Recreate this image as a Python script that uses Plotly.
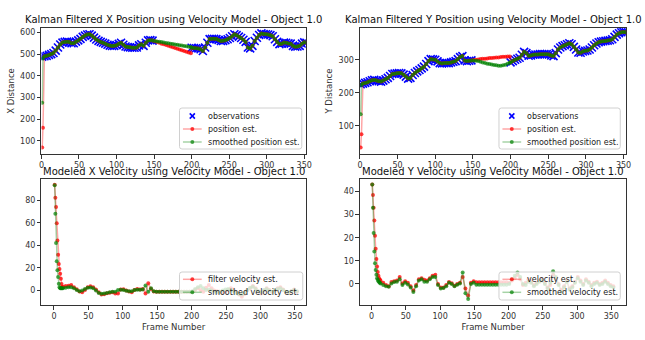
import plotly.graph_objects as go

# ---------------- frame numbers ----------------
frames_a = list(range(1, 149, 3))      # tracked before the occlusion
frames_gap = list(range(151, 200, 3))  # occlusion: no observations
frames_b = list(range(200, 354, 3))    # tracked after the occlusion
frames_head = [1, 2]                   # filter warm-up frames
frames_v = list(range(1, 13)) + list(range(13, 354, 4))

# ---------------- X position ----------------
x_obs_a = [488, 490, 492, 496, 500, 505, 516, 530, 544, 553, 556, 557, 555, 550, 550,
           557, 563, 570, 579, 585, 590, 591, 585, 576, 567, 561, 556, 552, 548, 543,
           539, 537, 538, 541, 547, 552, 543, 535, 532, 531, 529, 529, 530, 540, 545,
           538, 552, 563, 564, 562]
x_obs_b = [529, 528, 527, 526, 522, 514, 530, 552, 569, 570, 570, 569, 565, 560, 561,
           564, 568, 574, 582, 591, 587, 580, 574, 566, 556, 530, 526, 538, 560, 575,
           588, 595, 592, 591, 590, 587, 582, 568, 556, 546, 548, 553, 552, 549, 548,
           538, 534, 535, 538, 548, 554, 552]
x_est_head = [70, 161]
x_smooth_head = [276, 480]
x_est_gap = [559, 555, 552, 548, 545, 542, 538, 535, 531, 528, 525, 521, 518, 514, 511, 507, 504]
x_smooth_gap = [560, 558, 557, 555, 553, 551, 550, 548, 546, 544, 543, 541, 539, 537, 536, 534, 532]

# ---------------- Y position ----------------
y_obs_a = [226, 228, 230, 232, 235, 238, 239, 237, 235, 234, 237, 241, 245, 251, 257,
           258, 259, 260, 259, 255, 249, 243, 245, 254, 260, 265, 269, 274, 279, 287,
           296, 302, 301, 300, 295, 290, 289, 290, 290, 290, 292, 294, 296, 302, 308,
           311, 298, 296, 297, 298]
y_obs_b = [292, 296, 300, 303, 306, 315, 324, 320, 312, 313, 315, 316, 316, 317, 317,
           317, 317, 316, 313, 311, 320, 331, 337, 341, 344, 347, 350, 347, 339, 331,
           322, 321, 325, 327, 328, 331, 337, 344, 349, 353, 355, 356, 357, 358, 359,
           362, 369, 376, 380, 383, 384, 383]
y_est_head = [35, 75]
y_smooth_head = [135, 224]
y_est_gap = [299, 300, 301, 302, 303, 303, 304, 305, 305, 306, 307, 307, 308, 309, 309, 310, 310]
y_smooth_gap = [298, 297, 296, 294, 292, 290, 288, 287, 286, 284, 283, 282, 282, 283, 285, 288, 292]

# ---------------- X velocity ----------------
vx_filter = [93.5, 82, 73.8, 59.6, 44.2, 31.6, 23.6, 19.2, 14.8, 10.4, 5.9, 3.0,
             3.5, 4.0, 4.2, 5.0, 3.0, 1.2, -0.8, -1.5, 0.5, 3.0, 3.8, 3.0, 1.0, -1.5,
             -3.5, -3.2, -2.4, -1.8, -1.5, -2.5, -2.5, 1.0, 1.2, 0.2, -0.8, -1.5, 0.5,
             1.5, 1.0, 1.5, -2.5, 6.5, 1.5, -0.8, -0.9,
             -0.9, -0.9, -0.9, -0.9, -0.9, -0.9, -0.9, -0.9, -0.9, -0.9, -0.9, -0.9,
             -1.0, 0.5, 2.0, 0.5, -1.0, 2.5, 5.0, 2.0, 0.0, -0.5, -1.0, -1.5, -1.0,
             0.5, 2.0, 1.0, -1.5, -3.5, -5.5, -3.0, 0.5, 2.0, 4.0, 2.0, -1.0, -2.5,
             0.0, 2.0, 0.5, -1.0, 0.0, 2.0, 3.0, 1.0, -1.5, -2.0, -0.5, 1.0, -1.0]
vx_smooth = [93, 68, 42, 26, 18, 12, 6, 3, 2, 2, 2, 2,
             2.0, 2.5, 3.0, 3.0, 2.0, 0.5, -0.5, 0.0, 1.5, 2.5, 2.8, 2.0, 0.0, -2.0,
             -2.8, -2.5, -2.0, -1.5, -1.0, -1.0, 0.5, 0.8, 0.5, -0.2, -0.5, -0.5, 0.5,
             0.8, 0.8, 1.0, 4.5, -1.0, 2.0, -0.5, -1.0,
             -1.1, -1.1, -1.1, -1.1, -1.1, -1.1, -1.1, -1.1, -1.1, -1.1, -1.1, -1.1,
             -0.5, 1.5, 3.0, 4.0, 2.0, 0.5, 1.0, 0.0, -1.0, -1.5, -1.0, 0.0, 1.0,
             1.5, 0.5, -0.5, -2.0, -3.0, -3.5, -2.0, 0.5, 2.5, 3.5, 1.5, -0.5, -1.5,
             0.5, 1.5, 0.0, -1.0, 0.5, 1.5, 2.0, 0.5, -1.0, -1.5, -0.5, 0.5, -0.5]

# ---------------- Y velocity ----------------
vy_filter = [43, 38.5, 33, 27.4, 20.9, 15.2, 10.8, 7.5, 5.2, 3.6, 2.5, 1.8,
             1.5, 0.5, -0.5, -1.0, 0.8, 1.2, 1.5, 3.0, 0.2, 1.2, 0.5, -1.0, -2.8, -0.5,
             2.0, 2.5, 1.8, 1.5, 2.5, 3.5, 4.0, 0.0, -1.5, -1.5, -0.5, 0.8, 0.3,
             -0.8, 0.0, 0.5, 3.0, -2.0, -5.0, 0.5, 1.2,
             0.7, 0.7, 0.7, 0.7, 0.7, 0.7, 0.7, 0.7, 0.7, 0.7, 0.7, 0.7,
             0.5, 1.5, 2.5, 4.0, 2.0, -0.5, 0.5, 2.0, 1.0, -0.5, 0.5, 1.5, 2.0,
             0.5, -1.5, -0.5, 4.0, 2.5, 0.0, -2.5, -1.0, 1.5, -2.0, -1.0, 1.0, 3.0,
             1.5, 0.0, 2.0, 1.0, -0.5, 0.5, 1.0, 0.0, 0.5, 1.5, 0.5, -0.5, -1.0]
vy_smooth = [43, 33, 22, 14, 9, 6, 4, 2.5, 1.8, 1.2, 0.8, 0.5,
             0.2, -0.5, -1.0, -1.2, 0.2, 0.8, 1.0, 2.0, -0.5, 0.5, -0.2, -1.5, -3.5, -1.0,
             1.5, 2.0, 1.0, 1.0, 2.0, 3.0, 3.0, -0.5, -2.0, -1.8, -1.0, 0.5, 0.0,
             -1.0, -0.3, 0.2, 5.0, -4.0, -6.5, 0.0, 0.5,
             -0.3, -0.3, -0.3, -0.3, -0.3, -0.3, -0.3, -0.3, -0.3, -0.3, -0.3, -0.3,
             0.0, 2.0, 3.5, 5.0, 3.0, 0.0, -0.5, 1.0, 0.5, -1.0, 0.0, 1.0, 1.5,
             0.0, -2.0, 0.5, 5.5, 3.0, -0.5, -3.5, -1.5, 1.0, -2.5, -1.5, 0.5, 2.5,
             1.0, -0.5, 1.5, 0.5, -1.0, 0.0, 0.5, -0.5, 0.0, 1.0, 0.0, -1.0, -1.5]

for name, xs, ys in [("x_obs_a", frames_a, x_obs_a), ("x_obs_b", frames_b, x_obs_b),
                     ("y_obs_a", frames_a, y_obs_a), ("y_obs_b", frames_b, y_obs_b),
                     ("x_est_gap", frames_gap, x_est_gap), ("y_smooth_gap", frames_gap, y_smooth_gap),
                     ("vx_filter", frames_v, vx_filter), ("vx_smooth", frames_v, vx_smooth),
                     ("vy_filter", frames_v, vy_filter), ("vy_smooth", frames_v, vy_smooth)]:
    if len(xs) != len(ys):
        raise ValueError(f"{name}: {len(xs)} frames vs {len(ys)} values")

# ---------------- styling ----------------
W, H = 645, 340
FONT = "DejaVu Sans"
RED_LINE, RED_DOT = "rgba(255,0,0,0.35)", "rgba(255,0,0,0.75)"
GRN_LINE, GRN_DOT = "rgba(0,128,0,0.35)", "rgba(0,128,0,0.7)"


def px_x(x):
    return x / W


def px_y(y):
    return 1 - y / H


fig = go.Figure()


def obs_trace(xs, ys, ax):
    return go.Scatter(x=xs, y=ys, mode="markers", name="observations",
                      marker=dict(symbol="x-thin", size=8, color="blue",
                                  line=dict(color="blue", width=1.6)),
                      xaxis="x" + ax, yaxis="y" + ax)


def est_trace(xs, ys, ax, name, line_c, dot_c):
    return go.Scatter(x=xs, y=ys, mode="lines+markers", name=name,
                      line=dict(color=line_c, width=1.5),
                      marker=dict(symbol="circle", size=4, color=dot_c),
                      xaxis="x" + ax, yaxis="y" + ax)


pos_frames = frames_head + frames_a[1:] + frames_gap + frames_b

# X position panel
fig.add_trace(obs_trace(frames_a, x_obs_a, ""))
fig.add_trace(obs_trace(frames_b, x_obs_b, ""))
fig.add_trace(est_trace(pos_frames, x_est_head + x_obs_a[1:] + x_est_gap + x_obs_b,
                        "", "position est.", RED_LINE, RED_DOT))
fig.add_trace(est_trace(pos_frames, x_smooth_head + x_obs_a[1:] + x_smooth_gap + x_obs_b,
                        "", "smoothed position est.", GRN_LINE, GRN_DOT))

# Y position panel
fig.add_trace(obs_trace(frames_a, y_obs_a, "2"))
fig.add_trace(obs_trace(frames_b, y_obs_b, "2"))
fig.add_trace(est_trace(pos_frames, y_est_head + y_obs_a[1:] + y_est_gap + y_obs_b,
                        "2", "position est.", RED_LINE, RED_DOT))
fig.add_trace(est_trace(pos_frames, y_smooth_head + y_obs_a[1:] + y_smooth_gap + y_obs_b,
                        "2", "smoothed position est.", GRN_LINE, GRN_DOT))

# velocity panels
fig.add_trace(est_trace(frames_v, vx_filter, "3", "filter velocity est.", RED_LINE, RED_DOT))
fig.add_trace(est_trace(frames_v, vx_smooth, "3", "smoothed velocity est.", GRN_LINE, GRN_DOT))
fig.add_trace(est_trace(frames_v, vy_filter, "4", "velocity est.", RED_LINE, RED_DOT))
fig.add_trace(est_trace(frames_v, vy_smooth, "4", "smoothed velocity est.", GRN_LINE, GRN_DOT))

AX = dict(showline=True, linecolor="#333", linewidth=1, mirror=True, ticks="outside",
          ticklen=3.5, tickwidth=0.9, tickcolor="#333", showgrid=False, zeroline=False,
          tickfont=dict(family=FONT, size=8, color="#333"))
frame_ticks = dict(tickmode="array", tickvals=[0, 50, 100, 150, 200, 250, 300, 350])

panels = {
    "": (39, 307, 28, 154, [0, 352], [40, 620], [100, 200, 300, 400, 500, 600]),
    "2": (362, 632, 28, 154, [0, 353.5], [15, 396], [100, 200, 300]),
    "3": (39, 307, 179, 305, [-18.2, 365.8], [-12.7, 98.6], [0, 20, 40, 60, 80]),
    "4": (362, 632, 179, 305, [-17, 371.7], [-9.1, 45.4], [0, 10, 20, 30, 40]),
}
layout = {}
for ax, (x0, x1, y0, y1, xr, yr, yt) in panels.items():
    layout["xaxis" + ax] = dict(AX, domain=[px_x(x0), px_x(x1)], range=xr,
                                anchor="y" + ax, **frame_ticks)
    layout["yaxis" + ax] = dict(AX, domain=[px_y(y1), px_y(y0)], range=yr,
                                anchor="x" + ax, tickmode="array", tickvals=yt)

label_font = dict(family=FONT, size=8.5, color="#333")
layout["xaxis3"]["title"] = dict(text="Frame Number", font=label_font, standoff=3)
layout["xaxis4"]["title"] = dict(text="Frame Number", font=label_font, standoff=3)
layout["yaxis"]["title"] = dict(text="X Distance", font=label_font, standoff=4)
layout["yaxis2"]["title"] = dict(text="Y Distance", font=label_font, standoff=4)

titles = [
    ("Kalman Filtered X Position using Velocity Model - Object 1.0", 173, 19),
    ("Kalman Filtered Y Position using Velocity Model - Object 1.0", 497, 19),
    ("Modeled X Velocity using Velocity Model - Object 1.0", 173, 171),
    ("Modeled Y Velocity using Velocity Model - Object 1.0", 497, 171),
]
annotations = [dict(text=t, x=px_x(cx), y=px_y(cy), xref="paper", yref="paper",
                    xanchor="center", yanchor="middle", showarrow=False,
                    font=dict(family=FONT, size=10, color="#111"))
               for t, cx, cy in titles]
shapes = []

# compact per-panel legends (box, line/marker handle, label)
OBS, RED, GRN = "obs", (RED_LINE, RED_DOT), (GRN_LINE, GRN_DOT)
legends = [
    ((179, 108, 303, 149), [(OBS, "observations"), (RED, "position est."),
                            (GRN, "smoothed position est.")]),
    ((503, 108, 626, 149), [(OBS, "observations"), (RED, "position est."),
                            (GRN, "smoothed position est.")]),
    ((179, 272, 304, 300), [(RED, "filter velocity est."), (GRN, "smoothed velocity est.")]),
    ((503, 272, 626, 300), [(RED, "velocity est."), (GRN, "smoothed velocity est.")]),
]
for (bx0, by0, bx1, by1), entries in legends:
    r = 2.5
    path = (f"M {px_x(bx0 + r)},{px_y(by0)} L {px_x(bx1 - r)},{px_y(by0)} "
            f"Q {px_x(bx1)},{px_y(by0)} {px_x(bx1)},{px_y(by0 + r)} "
            f"L {px_x(bx1)},{px_y(by1 - r)} Q {px_x(bx1)},{px_y(by1)} {px_x(bx1 - r)},{px_y(by1)} "
            f"L {px_x(bx0 + r)},{px_y(by1)} Q {px_x(bx0)},{px_y(by1)} {px_x(bx0)},{px_y(by1 - r)} "
            f"L {px_x(bx0)},{px_y(by0 + r)} Q {px_x(bx0)},{px_y(by0)} {px_x(bx0 + r)},{px_y(by0)} Z")
    shapes.append(dict(type="path", path=path, xref="paper", yref="paper",
                       fillcolor="rgba(255,255,255,0.8)", line=dict(color="#d0d0d0", width=1)))
    first = by0 + (8 if len(entries) == 3 else 7.3)
    for i, (style, label) in enumerate(entries):
        cy = first + 13 * i
        hx0, hx1 = bx0 + 3.5, bx0 + 22.5
        hc = (hx0 + hx1) / 2
        if style == OBS:
            for dy in (-2.6, 2.6):
                shapes.append(dict(type="line", xref="paper", yref="paper",
                                   x0=px_x(hc - 2.6), x1=px_x(hc + 2.6),
                                   y0=px_y(cy - dy), y1=px_y(cy + dy),
                                   line=dict(color="blue", width=1.6)))
        else:
            line_c, dot_c = style
            shapes.append(dict(type="line", xref="paper", yref="paper",
                               x0=px_x(hx0), x1=px_x(hx1), y0=px_y(cy), y1=px_y(cy),
                               line=dict(color=line_c, width=1.5)))
            shapes.append(dict(type="circle", xref="paper", yref="paper",
                               x0=px_x(hc - 2), x1=px_x(hc + 2), y0=px_y(cy + 2), y1=px_y(cy - 2),
                               fillcolor=dot_c, line=dict(width=0)))
        annotations.append(dict(text=label, x=px_x(bx0 + 26.5), y=px_y(cy), xref="paper",
                                yref="paper", xanchor="left", yanchor="middle", showarrow=False,
                                font=dict(family=FONT, size=8, color="#222")))

fig.update_layout(width=W, height=H, margin=dict(l=0, r=0, t=0, b=0),
                  paper_bgcolor="white", plot_bgcolor="white", showlegend=False,
                  annotations=annotations, shapes=shapes, **layout)

fig.write_html("out.html")
